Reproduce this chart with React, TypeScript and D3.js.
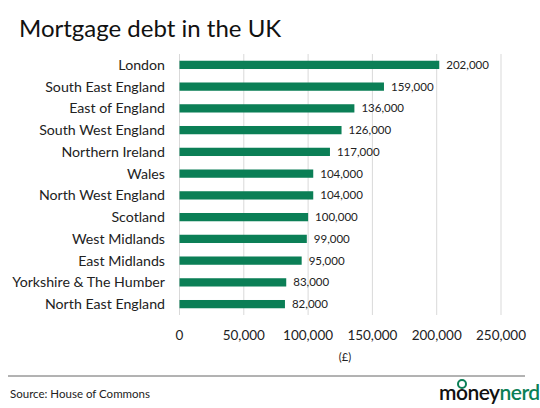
import { useEffect, useRef } from "react";
import * as d3 from "d3";

const regions = [
  "London",
  "South East England",
  "East of England",
  "South West England",
  "Northern Ireland",
  "Wales",
  "North West England",
  "Scotland",
  "West Midlands",
  "East Midlands",
  "Yorkshire & The Humber",
  "North East England",
];
const debt = [202000, 159000, 136000, 126000, 117000, 104000, 104000, 100000, 99000, 95000, 83000, 82000];
const xTicks = [0, 50000, 100000, 150000, 200000, 250000];

const GREEN = "#0b7f56";
const FONT = "Lato, 'Open Sans', sans-serif";

export default function App() {
  const svgRef = useRef<SVGSVGElement>(null);

  useEffect(() => {
    if (!svgRef.current) return;
    const width = 540;
    const height = 408;

    const svg = d3.select(svgRef.current);
    svg.selectAll("*").remove();
    svg.attr("viewBox", `0 0 ${width} ${height}`).style("font-family", FONT);

    const x = d3.scaleLinear().domain([0, 250000]).range([179.5, 501]);
    const y = d3.scaleBand().domain(regions).range([54, 315]).paddingInner(0.62).paddingOuter(0.31);

    // title
    svg.append("text")
      .attr("x", 19)
      .attr("y", 37)
      .attr("font-size", 24)
      .attr("fill", "#111")
      .text("Mortgage debt in the UK");

    // gridlines
    svg.append("g")
      .selectAll("line")
      .data(xTicks)
      .enter()
      .append("line")
      .attr("x1", (d) => x(d))
      .attr("x2", (d) => x(d))
      .attr("y1", 54)
      .attr("y2", 315)
      .attr("stroke", "#d9d9d9")
      .attr("stroke-width", 1);

    // bars
    svg.append("g")
      .selectAll("rect")
      .data(regions)
      .enter()
      .append("rect")
      .attr("x", x(0))
      .attr("y", (d) => y(d)!)
      .attr("width", (d, i) => x(debt[i]) - x(0))
      .attr("height", y.bandwidth())
      .attr("fill", GREEN);

    // category labels
    svg.append("g")
      .selectAll("text")
      .data(regions)
      .enter()
      .append("text")
      .attr("x", 165)
      .attr("y", (d) => y(d)! + y.bandwidth() / 2)
      .attr("dy", "0.35em")
      .attr("text-anchor", "end")
      .attr("font-size", 14.2)
      .attr("fill", "#222")
      .text((d) => d);

    // value labels
    svg.append("g")
      .selectAll("text")
      .data(regions)
      .enter()
      .append("text")
      .attr("x", (d, i) => x(debt[i]) + 7)
      .attr("y", (d) => y(d)! + y.bandwidth() / 2)
      .attr("dy", "0.35em")
      .attr("font-size", 11.5)
      .attr("fill", "#222")
      .text((d, i) => d3.format(",")(debt[i]));

    // x axis tick labels
    svg.append("g")
      .selectAll("text")
      .data(xTicks)
      .enter()
      .append("text")
      .attr("x", (d) => x(d))
      .attr("y", 335)
      .attr("dy", "0.35em")
      .attr("text-anchor", "middle")
      .attr("font-size", 13.5)
      .attr("fill", "#222")
      .text((d) => d3.format(",")(d));

    svg.append("text")
      .attr("x", 345)
      .attr("y", 357)
      .attr("dy", "0.35em")
      .attr("text-anchor", "middle")
      .attr("font-size", 11)
      .attr("fill", "#222")
      .text("(£)");

    // footer
    svg.append("line")
      .attr("x1", 8)
      .attr("x2", 525)
      .attr("y1", 376)
      .attr("y2", 376)
      .attr("stroke", "#666")
      .attr("stroke-width", 1);

    svg.append("text")
      .attr("x", 10)
      .attr("y", 394)
      .attr("dy", "0.35em")
      .attr("font-size", 11.5)
      .attr("fill", "#222")
      .text("Source: House of Commons");

    // logo
    const logo = svg.append("text")
      .attr("x", 439)
      .attr("y", 400)
      .attr("font-size", 21)
      .attr("font-weight", 600)
      .attr("letter-spacing", -0.5);
    logo.append("tspan").attr("fill", "#111").text("money");
    logo.append("tspan").attr("fill", GREEN).text("nerd");
    svg.append("circle")
      .attr("cx", 462)
      .attr("cy", 384)
      .attr("r", 4)
      .attr("fill", "none")
      .attr("stroke", GREEN)
      .attr("stroke-width", 2);
  }, []);

  return (
    <svg
      ref={svgRef}
      width={540}
      height={408}
      style={{ position: "absolute", left: 0, top: 0, background: "#fff" }}
    />
  );
}
